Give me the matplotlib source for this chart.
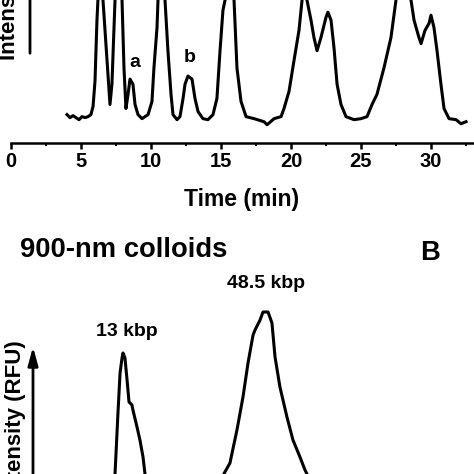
# Electropherograms: separation trace (top, cropped) and 900-nm colloid run (panel B)
import numpy as np
import matplotlib.pyplot as plt
from matplotlib.ticker import MultipleLocator

plt.rcParams['font.family'] = ['Liberation Sans', 'DejaVu Sans']
plt.rcParams['font.weight'] = 'bold'

# top trace, time (min) and intensity (arbitrary)
top_time = [4.00, 4.21, 4.43, 4.64, 4.86, 5.07, 5.29, 5.50, 5.71, 5.86, 6.00, 6.07, 6.14, 6.21,
            6.36, 6.57, 7.07, 7.21, 7.43, 7.64, 7.93, 8.07, 8.21, 8.36, 8.50, 8.71, 8.86, 9.07,
            9.36, 9.57, 9.79, 10.07, 10.21, 10.43, 10.50, 10.79, 11.00, 11.21, 11.43, 11.57,
            11.86, 12.07, 12.29, 12.43, 12.64, 12.93, 13.14, 13.36, 13.71, 14.07, 14.43, 14.71,
            14.93, 15.14, 15.29, 15.64, 15.93, 16.14, 16.43, 16.79, 17.36, 18.07, 18.29, 18.79,
            19.29, 19.50, 19.86, 20.21, 20.57, 20.79, 20.96, 21.14, 21.43, 21.64, 21.86, 22.14,
            22.50, 22.64, 22.86, 23.07, 23.29, 23.57, 23.93, 24.50, 25.00, 25.43, 25.79, 26.14,
            26.64, 27.14, 27.50, 28.00, 28.57, 28.79, 29.14, 29.29, 29.57, 29.86, 30.00, 30.21,
            30.43, 30.71, 30.93, 31.29, 31.79, 32.14, 32.50]
top_signal = [2, -1, 1, -1, -3, 0, -1, 0, 2, 10, 35, 65, 95, 115,
              210, 115, 12, 32, 115, 200, 115, 48, 8, 22, 37, 32, 12, 2,
              -2, 0, 2, 15, 48, 88, 115, 230, 115, 65, 22, 2,
              -3, 0, 18, 32, 40, 37, 18, 5, -2, -3, 2, 18,
              65, 105, 115, 260, 115, 48, 15, 0, -2, -5, -8, -2,
              0, 8, 25, 55, 85, 115, 130, 115, 95, 78, 65, 78,
              98, 103, 95, 68, 32, 12, 0, -3, -2, 0, 12, 22,
              48, 78, 115, 150, 115, 95, 78, 72, 85, 92, 100, 88,
              65, 32, 8, -2, -3, -7, -5]

peak_names = ['a', 'b', 'd']
peak_label_time = [8.86, 12.79, 29.9]
peak_label_y = [53, 58, 121]

# panel B trace (900-nm colloids)
b_time = [7.21, 7.43, 7.64, 7.79, 7.93, 8.00, 8.14, 8.29, 8.43, 8.64, 8.71, 9.00, 9.21,
          9.43, 9.57, 9.71, 11.0, 13.0, 14.9, 15.2, 15.64, 16.14, 16.57, 16.93, 17.29,
          17.43, 17.79, 18.00, 18.36, 18.64, 18.86, 19.21, 19.71, 20.14, 20.64, 21.00,
          21.14, 21.4]
b_signal = [-16, 0, 61, 101, 116, 121, 116, 94, 72, 69, 64, 47, 34,
            17, 0, -16, -40, -40, -16, 0, 11, 44, 77, 111, 139,
            144, 154, 162, 162, 151, 117, 87, 57, 34, 17, 4,
            0, -16]
b_labels = ['13 kbp', '48.5 kbp']
b_label_time = [8.25, 18.21]
b_label_y = [143, 191]

fig = plt.figure(figsize=(4.74, 4.74), dpi=100)

# top panel: 1 data unit = 1 px vertically
ax = fig.add_axes([11 / 474, 331 / 474, 462 / 474, 143 / 474])
ax.plot(top_time, top_signal, color='black', lw=2.2)
ax.set_xlim(0, 33)
ax.set_ylim(-26, 115)
for s in ['left', 'right', 'top']:
    ax.spines[s].set_visible(False)
ax.spines['bottom'].set_linewidth(1.8)
ax.set_yticks([])
ax.xaxis.set_major_locator(MultipleLocator(5))
ax.xaxis.set_minor_locator(MultipleLocator(2.5))
ax.tick_params(axis='x', which='major', direction='out', length=4.5, width=1.8,
               labelsize=14.5, pad=2)
ax.tick_params(axis='x', which='minor', direction='out', length=2.5, width=1.5)
for lab in ax.get_xticklabels():
    lab.set_fontweight('bold')
ax.set_xlabel('Time (min)', fontsize=16.5, fontweight='bold', labelpad=12)
for name, t, y in zip(peak_names, peak_label_time, peak_label_y):
    ax.text(t, y, name, ha='center', va='center', fontsize=14, fontweight='bold')

# bottom panel B
bx = fig.add_axes([11 / 474, 0, 462 / 474, 190 / 474])
bx.plot(b_time, b_signal, color='black', lw=2.2)
bx.set_xlim(0, 33)
bx.set_ylim(0, 190)
bx.axis('off')
for name, t, y in zip(b_labels, b_label_time, b_label_y):
    bx.text(t, y, name, ha='center', va='center', fontsize=14, fontweight='bold')

fig.text(20 / 474, 1 - 250 / 474, '900-nm colloids', fontsize=19.7, fontweight='bold',
         ha='left', va='center')
fig.text(430 / 474, 1 - 253 / 474, 'B', fontsize=19.7, fontweight='bold',
         ha='center', va='center')

# y labels and arrows (both cropped by the figure edge)
fig.text(9 / 474, 1 - 60 / 474, 'Intensity (RFU)', rotation=90, rotation_mode='anchor',
         ha='left', va='center', fontsize=16, fontweight='bold')
fig.text(16 / 474, 1 - 340 / 474, 'Intensity (RFU)', rotation=90, rotation_mode='anchor',
         ha='right', va='center', fontsize=16, fontweight='bold')
ax.annotate('', xy=(30, 474 + 40), xytext=(30, 474 - 56), xycoords='figure pixels',
            textcoords='figure pixels',
            arrowprops=dict(arrowstyle='-|>,head_length=0.55,head_width=0.15',
                            lw=2, color='black', mutation_scale=20))
bx.annotate('', xy=(33, 474 - 344), xytext=(33, -20), xycoords='figure pixels',
            textcoords='figure pixels',
            arrowprops=dict(arrowstyle='-|>,head_length=0.55,head_width=0.15',
                            lw=2, color='black', mutation_scale=20))

plt.savefig('out.png', dpi=100)
